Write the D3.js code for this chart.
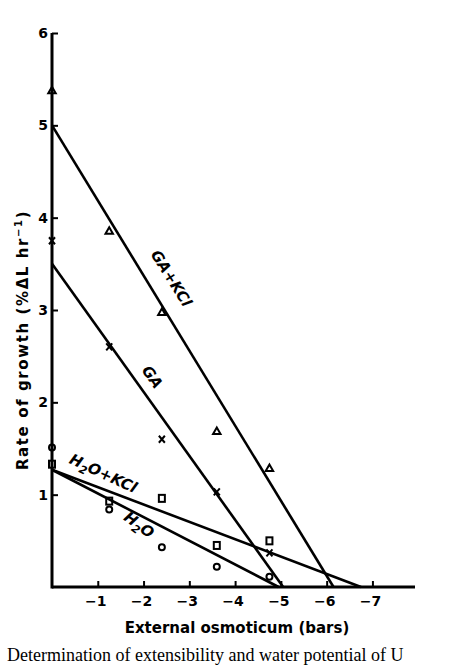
<!DOCTYPE html>
<html>
<head>
<meta charset="utf-8">
<script src="https://cdn.jsdelivr.net/npm/d3@7"></script>
<style>
  body { margin: 0; background: #fff; }
  svg text { font-family: "DejaVu Sans", sans-serif; fill: #000; }
</style>
</head>
<body>
<svg id="chart" width="474" height="665"></svg>
<script>
// osmoticum (bars) at which growth was measured
var osmoticum = [0, -1.25, -2.4, -3.6, -4.75]

// growth rates, % dL per hr
var gaKcl = [5.37, 3.85, 2.97, 1.68, 1.28]   // triangles
var ga = [3.75, 2.6, 1.6, 1.03, 0.37]        // crosses
var h2oKcl = [1.33, 0.93, 0.96, 0.45, 0.5]   // squares
var h2o = [1.51, 0.84, 0.43, 0.22, 0.11]     // circles

// fitted lines: y intercept and x intercept
var lineNames = ['GA+KCl', 'GA', 'H2O+KCl', 'H2O']
var lineY0 = [5.0, 3.5, 1.27, 1.27]
var lineX0 = [-6.15, -5.05, -6.75, -4.95]

var xTicks = [-1, -2, -3, -4, -5, -6, -7]
var yTicks = [1, 2, 3, 4, 5, 6]

var svg = d3.select('#chart')

var x = d3.scaleLinear().domain([0, -7.93]).range([52, 415])
var y = d3.scaleLinear().domain([0, 6]).range([587, 33])

// axes
var xAxis = svg.append('g').attr('transform', 'translate(0,' + y(0) + ')')
	.call(d3.axisTop(x).tickValues(xTicks).tickSize(6).tickFormat(''))
xAxis.select('.domain').attr('d', 'M' + x(0) + ',0H415').attr('stroke-width', 3)
xAxis.selectAll('.tick line').attr('stroke-width', 2)
xAxis.selectAll('.lbl')
	.data(xTicks)
	.enter()
	.append('text')
	.attr('x', d => x(d) - 2)
	.attr('y', 19)
	.attr('text-anchor', 'middle')
	.attr('font-size', 14)
	.attr('font-weight', 'bold')
	.text(d => '\u2212' + Math.abs(d))

var yAxis = svg.append('g').attr('transform', 'translate(' + x(0) + ',0)')
	.call(d3.axisRight(y).tickValues(yTicks).tickSize(6).tickFormat(''))
yAxis.select('.domain').attr('d', 'M0,' + y(6) + 'V' + (y(0) + 1.5)).attr('stroke-width', 3)
yAxis.selectAll('.tick line').attr('stroke-width', 2)
yAxis.selectAll('.lbl')
	.data(yTicks)
	.enter()
	.append('text')
	.attr('x', -4)
	.attr('y', d => y(d) + 5)
	.attr('text-anchor', 'end')
	.attr('font-size', 14)
	.attr('font-weight', 'bold')
	.text(d => d)

// fitted lines
svg.append('g').selectAll('line')
	.data(lineY0)
	.enter()
	.append('line')
	.attr('x1', x(0))
	.attr('y1', d => y(d))
	.attr('x2', (d, i) => x(lineX0[i]))
	.attr('y2', y(0))
	.attr('stroke', '#000')
	.attr('stroke-width', 2.6)

// markers
var pts = svg.append('g').attr('fill', 'none').attr('stroke', '#000').attr('stroke-width', 2)
pts.selectAll('.tri').data(gaKcl).enter().append('path')
	.attr('d', d3.symbol().type(d3.symbolTriangle).size(24))
	.attr('transform', (d, i) => 'translate(' + x(osmoticum[i]) + ',' + y(d) + ')')
pts.selectAll('.cross').data(ga).enter().append('path')
	.attr('d', 'M-3,-3.5L3,3.5M3,-3.5L-3,3.5')
	.attr('transform', (d, i) => 'translate(' + x(osmoticum[i]) + ',' + y(d) + ')')
pts.selectAll('.sq').data(h2oKcl).enter().append('rect')
	.attr('x', (d, i) => x(osmoticum[i]) - 3)
	.attr('y', d => y(d) - 3.5)
	.attr('width', 6)
	.attr('height', 7)
pts.selectAll('.circ').data(h2o).enter().append('circle')
	.attr('cx', (d, i) => x(osmoticum[i]))
	.attr('cy', d => y(d))
	.attr('r', 3)

// line labels
function lineLabel(px, py, angle, parts) {
	var t = svg.append('text')
		.attr('transform', 'translate(' + px + ',' + py + ') rotate(' + angle + ')')
		.attr('text-anchor', 'middle')
		.attr('font-size', 15)
		.attr('font-weight', 'bold')
		.attr('font-style', 'italic')
	parts.forEach(function (p) {
		t.append('tspan').attr('dy', p[1]).attr('font-size', p[2] || 15).text(p[0])
	})
}
lineLabel(167, 281, 58, [['GA+KCl', 0]])
lineLabel(148, 380, 55, [['GA', 0]])
lineLabel(101, 478, 25, [['H', 0], ['2', 4, 11], ['O+KCl', -4]])
lineLabel(136, 529, 36, [['H', 0], ['2', 4, 11], ['O', -4]])

// axis titles
svg.append('text')
	.attr('x', 237)
	.attr('y', 633)
	.attr('text-anchor', 'middle')
	.attr('font-size', 15)
	.attr('font-weight', 'bold')
	.text('External osmoticum (bars)')

var yl = svg.append('text')
	.attr('transform', 'translate(28,340) rotate(-90)')
	.attr('text-anchor', 'middle')
	.attr('font-size', 15)
	.attr('font-weight', 'bold')
	.attr('letter-spacing', 1.6)
yl.append('tspan').text('Rate of growth (%\u0394L hr')
yl.append('tspan').attr('dy', -6).attr('font-size', 10).text('\u22121')
yl.append('tspan').attr('dy', 6).text(')')

// caption (the reference shows only its top)
svg.append('text')
	.attr('x', 7)
	.attr('y', 661)
	.style('font-family', '"Liberation Serif", serif')
	.attr('font-size', 18)
	.text('Determination of extensibility and water potential of U')
</script>
</body>
</html>
